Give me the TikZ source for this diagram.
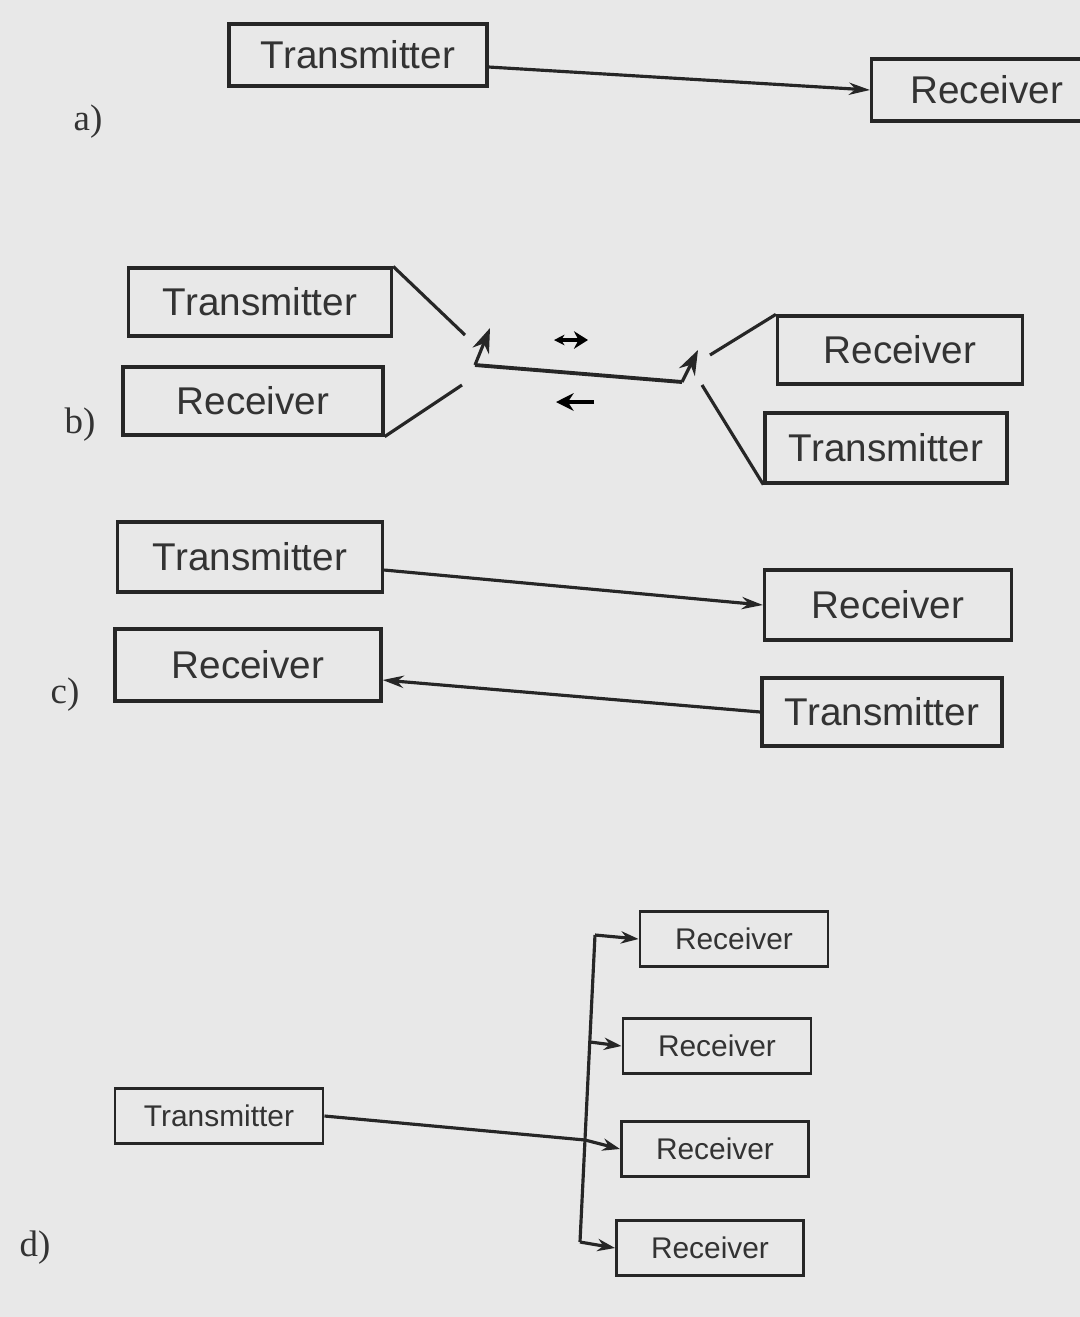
\documentclass[tikz,border=0pt]{standalone}
\usepackage{fontspec}
\setmainfont{Liberation Serif}
\newfontfamily\boxfont{Liberation Sans}
\usetikzlibrary{arrows.meta}
\begin{document}
\begin{tikzpicture}[x=0.01cm,y=-0.01cm,
  bx/.style={draw=black!85,line width=0.9pt,inner sep=0pt,font=\boxfont\fontsize{11}{13}\selectfont,text=black!80},
  sbx/.style={draw=black!85,line width=0.8pt,inner sep=0pt,font=\boxfont\fontsize{8.5}{10}\selectfont,text=black!80},
  wire/.style={draw=black!85,line width=0.9pt},
  arr/.style={wire,-{Stealth[length=6pt,width=3.5pt]}},
  lab/.style={font=\fontsize{10.5}{12}\selectfont,text=black!80}]
\fill[gray!18] (0,0) rectangle (1080,1317);
\useasboundingbox (0,0) rectangle (1080,1317);
% a
\node[bx,minimum width=2.58cm,minimum height=0.62cm] (aT) at (358,55) {Transmitter};
\node[bx,minimum width=2.3cm,minimum height=0.62cm,anchor=west] (aR) at (870,90) {Receiver};
\node[lab] (la) at (88,122) {a)};
\draw[arr] ([yshift=-0.12cm]aT.east) -- (aR.west);
% b
\node[bx,minimum width=2.63cm,minimum height=0.68cm] (bT1) at (260,302) {Transmitter};
\node[bx,minimum width=2.6cm,minimum height=0.68cm] (bR1) at (253,401) {Receiver};
\node[bx,minimum width=2.45cm,minimum height=0.68cm] (bR2) at (900,350) {Receiver};
\node[bx,minimum width=2.42cm,minimum height=0.7cm] (bT2) at (886,448) {Transmitter};
\node[lab] (lb) at (80,425) {b)};
\coordinate (p1) at (475,365); \coordinate (p2) at (682,382);
\coordinate (s1) at (465,335); \coordinate (s2) at (462,385);
\coordinate (s3) at (710,355); \coordinate (s4) at (702,385);
\draw[wire] (bT1.north east) -- (s1);
\draw[wire] (bR1.south east) -- (s2);
\draw[wire] (bR2.north west) -- (s3);
\draw[wire] (bT2.south west) -- (s4);
\draw[wire,line width=1.1pt] (p1) -- (p2);
\draw[wire,-{Stealth[length=7pt,width=5pt]}] (p1) -- (490,328);
\draw[wire,-{Stealth[length=7pt,width=5pt]}] (p2) -- (698,350);
\coordinate (m1) at (554,340); \coordinate (m2) at (588,340);
\coordinate (m3) at (594,402); \coordinate (m4) at (556,402);
\draw[line width=1.3pt,{Stealth[length=3pt,width=3pt]}-{Stealth[length=4pt,width=5pt]}] (m1) -- (m2);
\draw[line width=1.3pt,-{Stealth[length=5pt,width=5pt]}] (m3) -- (m4);
% c
\node[bx,minimum width=2.65cm,minimum height=0.7cm] (cT1) at (250,557) {Transmitter};
\node[bx,minimum width=2.47cm,minimum height=0.7cm] (cR2) at (888,605) {Receiver};
\node[bx,minimum width=2.66cm,minimum height=0.72cm] (cR1) at (248,665) {Receiver};
\node[bx,minimum width=2.4cm,minimum height=0.68cm] (cT2) at (882,712) {Transmitter};
\node[lab] (lc) at (65,695) {c)};
\draw[arr] ([yshift=-0.13cm]cT1.east) -- (cR2.west);
\draw[arr] (cT2.west) -- ([yshift=-0.15cm]cR1.east);
% d
\node[sbx,minimum width=2.08cm,minimum height=0.55cm] (dT) at (219,1116) {Transmitter};
\node[sbx,minimum width=1.88cm,minimum height=0.55cm] (d1) at (734,939) {Receiver};
\node[sbx,minimum width=1.88cm,minimum height=0.55cm] (d2) at (717,1046) {Receiver};
\node[sbx,minimum width=1.87cm,minimum height=0.55cm] (d3) at (715,1149) {Receiver};
\node[sbx,minimum width=1.87cm,minimum height=0.55cm] (d4) at (710,1248) {Receiver};
\node[lab] (ld) at (35,1248) {d)};
\coordinate (bt) at (595,935); \coordinate (bb) at (580,1242);
\coordinate (b2) at (590,1042); \coordinate (b3) at (585,1140);
\draw[wire] (bt) -- (bb);
\draw[wire] (dT.east) -- (b3);
\foreach \n/\c in {d1/bt,d2/b2,d3/b3,d4/bb}
  \draw[wire,-{Stealth[length=5pt,width=3.5pt]}] (\c) -- (\n.west);
\end{tikzpicture}
\end{document}
